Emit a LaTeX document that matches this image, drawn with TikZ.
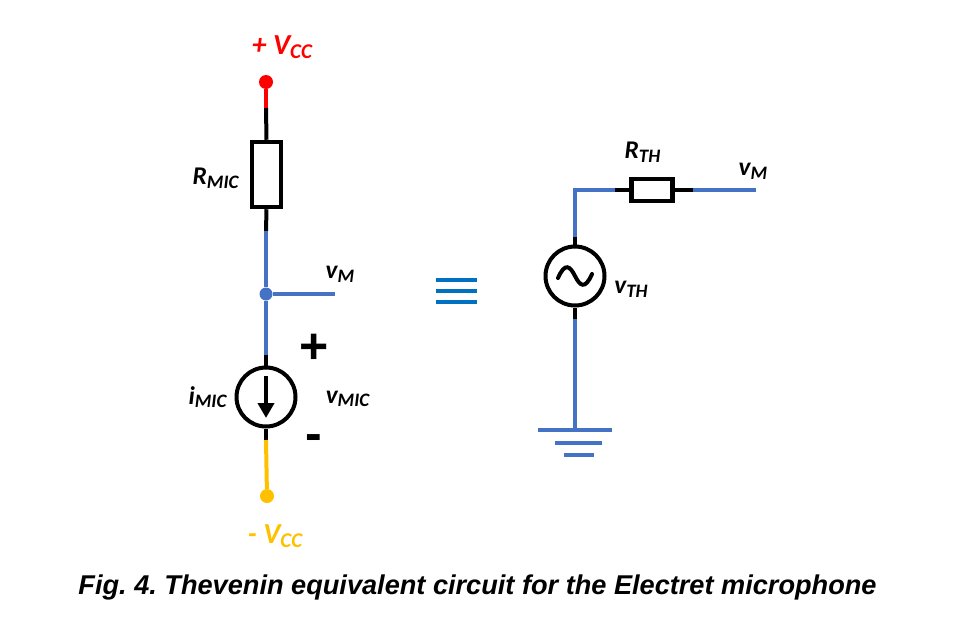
\documentclass[tikz,border=0pt]{standalone}
\usepackage{fontspec}
\setmainfont{Carlito}
\newfontfamily\capfont{Liberation Sans}
\usetikzlibrary{arrows.meta}
\usetikzlibrary{positioning}
\definecolor{wireblue}{HTML}{4472C4}
\definecolor{eqblue}{HTML}{0070C0}
\definecolor{vccred}{HTML}{FF0000}
\definecolor{vccyellow}{HTML}{FFC000}
\tikzstyle{bluewire}  = [
    draw=wireblue,
    line width=4pt
]
\tikzstyle{lead}  = [
    draw=black,
    line width=4pt
]
\tikzstyle{res}  = [
    shape=rectangle,
    draw,
    line width=4.5pt,
    inner sep=0pt
]
\tikzstyle{src}  = [
    shape=circle,
    draw,
    line width=4pt,
    inner sep=0pt,
    minimum size=59pt
]
\tikzstyle{dot}  = [
    shape=circle,
    inner sep=0pt,
    minimum size=14pt
]
\tikzstyle{lbl}  = [
    inner sep=0pt,
    font=\fontsize{25.5}{26}\selectfont\bfseries\itshape
]
\tikzstyle{rail}  = [
    inner sep=0pt,
    font=\fontsize{29}{29}\selectfont\bfseries\itshape
]
\tikzstyle{sign}  = [
    inner sep=0pt,
    font=\capfont\fontsize{50}{50}\selectfont\bfseries
]
\newcommand{\sublbl}[2]{#1\raisebox{-0.3ex}{\fontsize{19}{19}\selectfont #2}}
\newcommand{\subrail}[2]{#1\raisebox{-0.3ex}{\fontsize{21}{21}\selectfont #2}}

\begin{document}
\begin{tikzpicture}[x=1pt,y=-1pt]
\useasboundingbox (0,0) rectangle (974,632);

% left branch
\node[dot,fill=vccred] (top) at (266,82) {};
\coordinate (redend) at (266,108);
\node[res,minimum width=29pt,minimum height=65pt] (rmic) at (266.5,174.5) {};
\coordinate (blackend) at (266,231);
\node[dot,fill=wireblue,minimum size=13pt] (mid) at (266,294) {};
\coordinate (vmend) at (335,294);
\coordinate (srctop) at (266,355);
\node[src] (imic) at (266,397) {};
\coordinate (srcbot) at (266,440);
\node[dot,fill=vccyellow] (bot) at (267,496) {};

\draw[draw=vccred,line width=4pt] (top) -- (redend);
\draw[lead] (redend) -- (rmic.north);
\draw[lead] (rmic.south) -- (blackend);
\draw[bluewire] (blackend) -- (mid);
\draw[bluewire] (mid) -- (vmend);
\draw[bluewire] (mid) -- (srctop);
\draw[lead] (srctop) -- (imic.north);
\draw[lead] (imic.south) -- (srcbot);
\draw[draw=vccyellow,line width=4pt] (srcbot) -- (bot);

\coordinate (arrowtop) at (266,376);
\coordinate (arrowtip) at (266,418);
\draw[line width=4pt,-{Stealth[length=15pt,width=16pt,inset=0pt]}] (arrowtop) -- (arrowtip);

\node[rail,text=vccred] (vcctxt) at (282,47) {+ \subrail{V}{CC}};
\node[lbl] (rmictxt) at (215.5,178) {\sublbl{R}{MIC}};
\node[lbl] (vmtxt) at (340,274) {\sublbl{v}{M}};
\node[lbl] (imictxt) at (207.5,397) {\sublbl{i}{MIC}};
\node[lbl] (vmictxt) at (347.5,399) {\sublbl{v}{MIC}};
\node[rail,text=vccyellow] (veetxt) at (275,536) {- \subrail{V}{CC}};
\node[sign] (plus) at (314,349) {+};
\node[sign] (minus) at (314,443) {-};

% equivalence
\foreach \y/\n in {280/a,291/b,302/c} {
  \coordinate (eq\n l) at (436,\y);
  \coordinate (eq\n r) at (477,\y);
  \draw[draw=eqblue,line width=4.5pt] (eq\n l) -- (eq\n r);
}

% right branch
\node[src] (vth) at (575,276) {};
\coordinate (thtop) at (575,237);
\coordinate (thbot) at (575,319);
\coordinate (corner) at (575,190);
\coordinate (wireend) at (615,190);
\node[res,minimum width=41pt,minimum height=22pt] (rth) at (652,190) {};
\coordinate (rthend) at (693,190);
\coordinate (vmth) at (756,190);
\coordinate (gnd) at (575,430);

\draw[lead] (thtop) -- (vth.north);
\draw[lead] (vth.south) -- (thbot);
\draw[bluewire] (thtop) -- (corner) -- (wireend);
\draw[lead] (wireend) -- (rth.west);
\draw[lead] (rth.east) -- (rthend);
\draw[bluewire] (rthend) -- (vmth);
\draw[bluewire] (thbot) -- (gnd);

\coordinate (gnda) at (538,430);
\coordinate (gndb) at (612,430);
\coordinate (gndc) at (555,443);
\coordinate (gndd) at (602,443);
\coordinate (gnde) at (564,455);
\coordinate (gndf) at (594,455);
\draw[bluewire] (gnda) -- (gndb);
\draw[bluewire] (gndc) -- (gndd);
\draw[bluewire] (gnde) -- (gndf);

\draw[line width=4pt,line cap=round] (558,278) .. controls (565,262) and (570,266) .. (575,276) .. controls (580,286) and (585,290) .. (592,274);

\node[lbl] (rthtxt) at (642.5,152) {\sublbl{R}{TH}};
\node[lbl] (vmrtxt) at (753,171) {\sublbl{v}{M}};
\node[lbl] (vthtxt) at (631,289) {\sublbl{v}{TH}};

\node[inner sep=0pt,font=\capfont\fontsize{27.15}{28}\selectfont\bfseries\itshape] (caption) at (477.5,587) {\frenchspacing Fig. 4. Thevenin equivalent circuit for the Electret microphone};
\end{tikzpicture}
\end{document}
